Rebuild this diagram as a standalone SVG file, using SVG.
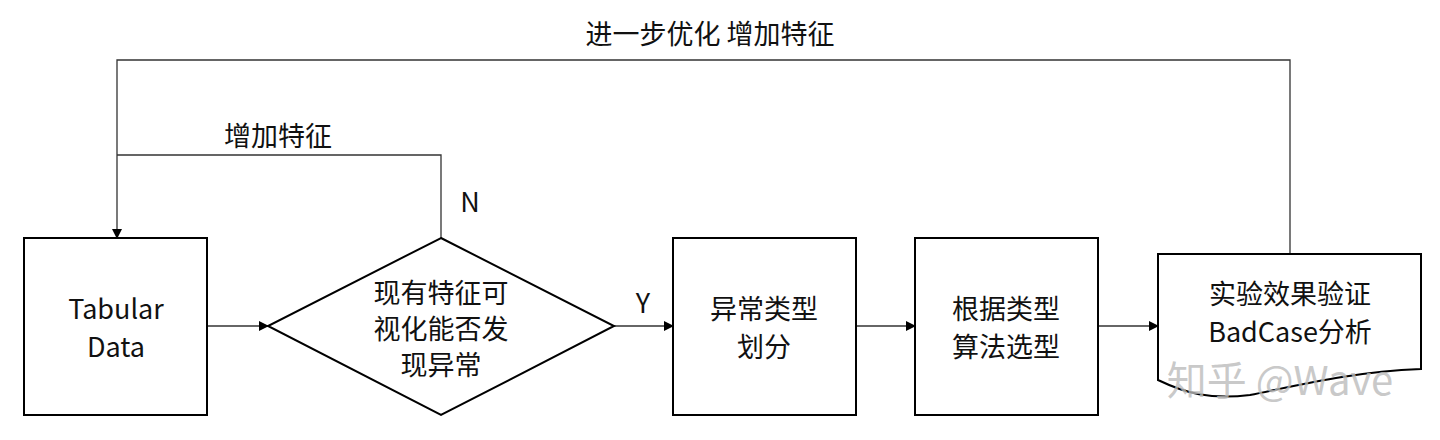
<svg xmlns="http://www.w3.org/2000/svg" width="1440" height="440" viewBox="0 0 1440 440">
<style>
.n{fill:#fff;stroke:#000;stroke-width:2}
.t{font-family:"Noto Sans CJK SC","Liberation Sans",sans-serif;font-size:27px;fill:#111;text-anchor:middle}
.c{fill:none;stroke:#333;stroke-width:1.3}
</style>
<defs><marker id="a" markerWidth="10" markerHeight="10" refX="9" refY="5" orient="auto" markerUnits="userSpaceOnUse"><path d="M0,0 L10,5 L0,10 Z" fill="#000"/></marker></defs>
<rect width="1440" height="440" fill="#fff"/>
<g id="connectors">
<path class="c" d="M1290,254 V60 H117 V238" marker-end="url(#a)"/>
<path class="c" d="M441,238 V155 H117"/>
<path class="c" d="M207,326 H268" marker-end="url(#a)"/>
<path class="c" d="M614,326 H673" marker-end="url(#a)"/>
<path class="c" d="M856,326 H915" marker-end="url(#a)"/>
<path class="c" d="M1098,326 H1158" marker-end="url(#a)"/>
<text class="t" x="710" y="44">进一步优化 增加特征</text>
<text class="t" x="278" y="146">增加特征</text>
<text class="t" x="470" y="212">N</text>
<text class="t" x="643" y="313">Y</text>
</g>
<g id="tabular"><rect class="n" x="24" y="238" width="183" height="177"/><text class="t" x="116" y="319">Tabular</text><text class="t" x="116" y="357">Data</text></g>
<g id="decision"><path class="n" d="M441,238 L614,326 L441,415 L268,326 Z"/><text class="t" x="441" y="303">现有特征可</text><text class="t" x="441" y="339">视化能否发</text><text class="t" x="441" y="375">现异常</text></g>
<g id="type"><rect class="n" x="673" y="238" width="183" height="177"/><text class="t" x="764" y="319">异常类型</text><text class="t" x="764" y="357">划分</text></g>
<g id="algo"><rect class="n" x="915" y="238" width="183" height="177"/><text class="t" x="1006" y="319">根据类型</text><text class="t" x="1006" y="357">算法选型</text></g>
<g id="verify"><path class="n" d="M1158,254 H1421 V369 C1350,372 1300,385 1250,395 C1210,400 1185,393 1158,380 Z"/><text class="t" x="1290" y="304">实验效果验证</text><text class="t" x="1290" y="342">BadCase分析</text></g>
<text x="1280" y="395" font-family="Noto Sans CJK SC,Liberation Sans,sans-serif" font-size="40" fill="#bbb" fill-opacity="0.8" text-anchor="middle">知乎 @Wave</text>
</svg>
